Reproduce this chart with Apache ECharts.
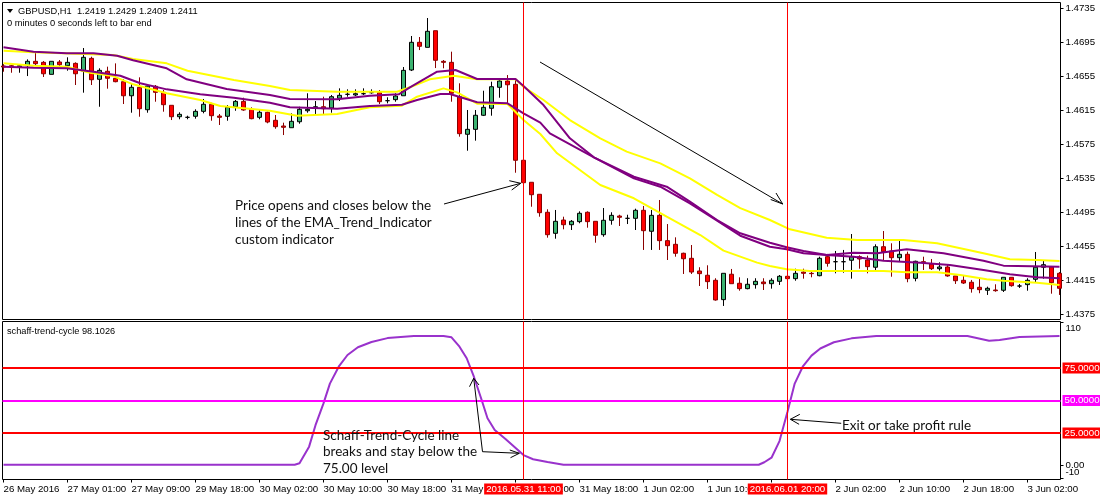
<!DOCTYPE html>
<html><head><meta charset="utf-8">
<style>html,body{margin:0;padding:0;background:#fff}#c{width:1100px;height:500px}</style>
<script src="https://cdn.jsdelivr.net/npm/echarts@6/dist/echarts.min.js"></script>
</head><body><div id="c"></div>
<script>
const opens=[1.46668,1.46671,1.46659,1.46671,1.46723,1.46711,1.46570,1.46715,1.46671,1.46699,1.46609,1.46758,1.46512,1.46606,1.46524,1.46484,1.46319,1.46418,1.46155,1.46430,1.46359,1.46207,1.46073,1.46066,1.46078,1.46136,1.46219,1.46081,1.46078,1.46190,1.46253,1.46160,1.46066,1.46125,1.46031,1.45964,1.45944,1.46014,1.46143,1.46175,1.46190,1.46175,1.46289,1.46336,1.46328,1.46343,1.46355,1.46355,1.46261,1.46273,1.46319,1.46621,1.46946,1.46887,1.47082,1.46723,1.46711,1.46308,1.45867,1.45925,1.46090,1.46172,1.46418,1.46492,1.46453,1.45562,1.45304,1.45163,1.44952,1.44705,1.44861,1.44806,1.44842,1.44952,1.44846,1.44689,1.44858,1.44908,1.44881,1.44881,1.44975,1.44729,1.44916,1.44619,1.44576,1.44471,1.44412,1.44263,1.44213,1.44154,1.43927,1.44225,1.44119,1.44056,1.44103,1.44134,1.44114,1.44142,1.44201,1.44173,1.44251,1.44236,1.44208,1.44431,1.44372,1.44372,1.44389,1.44431,1.44392,1.44307,1.44548,1.44498,1.44419,1.44459,1.44177,1.44372,1.44345,1.44290,1.44310,1.44205,1.44154,1.44131,1.44072,1.44037,1.44040,1.44037,1.44189,1.44087,1.44103,1.44166,1.44307,1.44310,1.44236];
const closes=[1.46656,1.46659,1.46671,1.46723,1.46695,1.46577,1.46723,1.46683,1.46711,1.46577,1.46770,1.46507,1.46617,1.46524,1.46484,1.46319,1.46418,1.46167,1.46433,1.46359,1.46214,1.46073,1.46101,1.46066,1.46136,1.46219,1.46085,1.46066,1.46183,1.46253,1.46152,1.46050,1.46125,1.46011,1.45956,1.45949,1.46019,1.46160,1.46160,1.46190,1.46167,1.46308,1.46324,1.46336,1.46343,1.46343,1.46355,1.46249,1.46261,1.46316,1.46617,1.46946,1.46899,1.47075,1.46735,1.46711,1.46348,1.45874,1.45925,1.46090,1.46183,1.46425,1.46492,1.46448,1.45562,1.45299,1.45158,1.44947,1.44689,1.44846,1.44806,1.44846,1.44940,1.44842,1.44682,1.44858,1.44916,1.44893,1.44881,1.44975,1.44736,1.44916,1.44619,1.44560,1.44471,1.44407,1.44251,1.44232,1.44138,1.43923,1.44236,1.44114,1.44056,1.44107,1.44142,1.44114,1.44154,1.44201,1.44173,1.44236,1.44236,1.44232,1.44412,1.44353,1.44372,1.44372,1.44431,1.44404,1.44314,1.44548,1.44490,1.44419,1.44459,1.44173,1.44377,1.44365,1.44290,1.44310,1.44205,1.44149,1.44122,1.44056,1.44044,1.44060,1.44032,1.44189,1.44091,1.44087,1.44154,1.44307,1.44337,1.44126,1.44060];
const lows=[1.46601,1.46589,1.46589,1.46550,1.46680,1.46539,1.46570,1.46668,1.46613,1.46445,1.46355,1.46445,1.46190,1.46402,1.46477,1.46222,1.46120,1.46073,1.46120,1.46249,1.46132,1.46034,1.46043,1.46043,1.46050,1.46113,1.46026,1.45976,1.46026,1.46143,1.46143,1.46043,1.46043,1.45996,1.45932,1.45858,1.45944,1.45991,1.46120,1.46105,1.46105,1.46120,1.46257,1.46308,1.46316,1.46328,1.46343,1.46222,1.46230,1.46249,1.46319,1.46609,1.46855,1.46887,1.46644,1.46641,1.46249,1.45839,1.45674,1.45792,1.46081,1.46085,1.46296,1.46230,1.45416,1.45299,1.45017,1.44900,1.44654,1.44642,1.44752,1.44744,1.44823,1.44771,1.44595,1.44665,1.44806,1.44791,1.44814,1.44744,1.44510,1.44510,1.44510,1.44392,1.44431,1.44228,1.44228,1.44087,1.44052,1.43915,1.43853,1.44114,1.44032,1.44048,1.44056,1.44040,1.44056,1.44099,1.44166,1.44149,1.44173,1.44189,1.44201,1.44314,1.44236,1.44243,1.44173,1.44290,1.44236,1.44255,1.44380,1.44196,1.44377,1.44131,1.44142,1.44275,1.44275,1.44267,1.44196,1.44111,1.44111,1.44009,1.44002,1.43982,1.44020,1.44017,1.44079,1.44064,1.44032,1.44126,1.44173,1.43997,1.43982];
const highs=[1.46691,1.46680,1.46680,1.46746,1.46836,1.46726,1.46723,1.46738,1.46770,1.46711,1.46879,1.46777,1.46641,1.46660,1.46699,1.46515,1.46465,1.46535,1.46433,1.46445,1.46386,1.46207,1.46125,1.46085,1.46160,1.46281,1.46237,1.46105,1.46210,1.46269,1.46296,1.46183,1.46160,1.46132,1.46093,1.46003,1.46113,1.46190,1.46348,1.46257,1.46308,1.46328,1.46406,1.46394,1.46394,1.46406,1.46394,1.46386,1.46301,1.46348,1.46656,1.47020,1.47008,1.47231,1.47082,1.46738,1.46836,1.46465,1.46152,1.46152,1.46378,1.46484,1.46503,1.46562,1.46523,1.45562,1.45304,1.45163,1.44987,1.44979,1.44900,1.44861,1.44963,1.44963,1.44846,1.45002,1.44952,1.44923,1.44923,1.44994,1.45026,1.44979,1.45096,1.44814,1.44658,1.44478,1.44568,1.44307,1.44330,1.44178,1.44236,1.44287,1.44189,1.44178,1.44178,1.44178,1.44178,1.44216,1.44216,1.44290,1.44290,1.44255,1.44431,1.44463,1.44498,1.44510,1.44697,1.44447,1.44443,1.44576,1.44732,1.44588,1.44619,1.44490,1.44384,1.44431,1.44404,1.44365,1.44333,1.44205,1.44205,1.44158,1.44173,1.44079,1.44107,1.44189,1.44189,1.44111,1.44178,1.44486,1.44384,1.44322,1.44251];

const yellowUpper=[[0,1.46847],[3.75,1.46829],[13.7,1.46797],[16.2,1.46750],[20.4,1.46699],[23,1.46613],[28.8,1.46503],[33.3,1.46433],[35.8,1.46386],[41.7,1.46366],[49.2,1.46366],[50.8,1.46418],[53.3,1.46512],[56.3,1.46554],[59.2,1.46512],[64,1.46512],[65,1.46425],[67.5,1.46269],[70.8,1.46034],[74.6,1.45820],[77.9,1.45663],[82.1,1.45526],[85.8,1.45350],[89.2,1.45155],[92.1,1.45000],[95.8,1.44861],[98.3,1.44752],[102.9,1.44654],[106.7,1.44627],[112.5,1.44627],[116.7,1.44588],[122.5,1.44471],[125.8,1.44400],[129.2,1.44392],[132,1.44380]];
const purpleUpper=[[0,1.46887],[3.75,1.46836],[7.9,1.46817],[11.25,1.46817],[14.2,1.46789],[16.2,1.46735],[20.4,1.46641],[22.9,1.46512],[27.9,1.46398],[33.3,1.46328],[35.8,1.46281],[41.7,1.46277],[45.8,1.46319],[49.4,1.46336],[50.8,1.46418],[54.2,1.46601],[56.5,1.46621],[59.2,1.46515],[64,1.46515],[65,1.46433],[67.5,1.46210],[70.8,1.45820],[73.8,1.45597],[78.8,1.45369],[82.9,1.45252],[85.8,1.45076],[89.2,1.44861],[92.1,1.44705],[95.8,1.44595],[97.9,1.44541],[100,1.44498],[102.9,1.44451],[106.25,1.44478],[109.2,1.44471],[112.9,1.44518],[117.5,1.44471],[122.5,1.44384],[125,1.44326],[132,1.44314]];
const purpleLower=[[0,1.46660],[3.75,1.46648],[7.9,1.46641],[11.25,1.46601],[14.6,1.46554],[17.1,1.46465],[20.4,1.46394],[24.6,1.46336],[28.8,1.46296],[33.3,1.46237],[35.8,1.46183],[41.7,1.46167],[45.8,1.46198],[49.8,1.46214],[51.7,1.46269],[54.6,1.46339],[55.8,1.46339],[59.2,1.46242],[63,1.46230],[65,1.46113],[67.1,1.46003],[68.3,1.45878],[73.8,1.45597],[78.8,1.45350],[82.1,1.45252],[85.8,1.45057],[89.2,1.44853],[92.1,1.44677],[95.8,1.44548],[97.9,1.44518],[100,1.44471],[102.9,1.44451],[106.25,1.44431],[110,1.44384],[114.6,1.44361],[118.3,1.44333],[122.5,1.44275],[125.8,1.44225],[129.2,1.44189],[132,1.44178]];
const yellowLower=[[0,1.46699],[3.75,1.46671],[7.9,1.46660],[10.8,1.46589],[13.7,1.46550],[16.2,1.46453],[20.4,1.46348],[24.6,1.46269],[27.1,1.46198],[33.3,1.46143],[36.7,1.46085],[41.7,1.46105],[45.8,1.46183],[49.8,1.46202],[51.7,1.46308],[55,1.46406],[56.7,1.46359],[59.2,1.46226],[63,1.46222],[65,1.46034],[67.1,1.45870],[69.2,1.45644],[74.6,1.45272],[78.8,1.45116],[82.9,1.44900],[87.1,1.44685],[90,1.44502],[94.2,1.44361],[95.8,1.44322],[97.9,1.44283],[100.8,1.44263],[104.2,1.44263],[110,1.44263],[112.9,1.44248],[116.7,1.44248],[119.6,1.44216],[122.9,1.44166],[125,1.44149],[129.2,1.44126],[132,1.44099]];
const schaff=[[0,0.6],[36.4,0.6],[37,1.7],[38.2,14.5],[39,31],[40,47.8],[40.8,63],[41.9,76],[43,85],[44.3,91],[46,95],[48,98],[51.3,99.6],[55,99.6],[56,98.6],[57,91.4],[57.9,82.5],[58.8,68.3],[59.7,51.7],[60.5,36.3],[61.4,27.3],[62.75,20.4],[65,8],[66.2,4.8],[68,2.7],[70,0.6],[94.4,0.6],[95.1,2.5],[96,6],[97,18.8],[98,41.4],[98.9,63],[99.9,76],[101,84.5],[102.1,90],[103.8,94.8],[106,97.8],[109.1,99.6],[120.5,99.6],[123.2,96],[124.5,96.5],[127,98.8],[132,99.6]];

const timeLabels=["26 May 2016","27 May 01:00","27 May 09:00","29 May 18:00","30 May 02:00","30 May 10:00","30 May 18:00","31 May 02:00","31 May 10:00","31 May 18:00","1 Jun 02:00","1 Jun 10:00","1 Jun 18:00","2 Jun 02:00","2 Jun 10:00","2 Jun 18:00","3 Jun 02:00"];
const timeTickBars=[0,8,16,24,32,40,48,56,64,72,80,88,96,104,112,120,128];
const priceTicks=[1.4375,1.4415,1.4455,1.4495,1.4535,1.4575,1.4615,1.4655,1.4695,1.4735];
const stcTicks=[110,0,-10];
const stcLabelValues=[105.8,0.4];
const stcLabels=['110','0.00'];
const crossBars=[65,98];
const crossLabels=["2016.05.31 11:00","2016.06.01 20:00"];
const levels=[75,50,25];
const levelColors=['#ff0000','#ff00ff','#ff0000'];

const FONT='"Liberation Sans"';
const NOTE='Lato';
const AXF=9.7;
const chart=echarts.init(document.getElementById('c'),null,{renderer:'canvas'});
const xBase={type:'value',min:-0.125,max:132.125,splitLine:{show:false},axisLine:{show:false,onZero:false}};
const lineS=(data,color,z)=>({type:'line',data,xAxisIndex:0,yAxisIndex:0,showSymbol:false,symbol:'none',silent:true,z,
  lineStyle:{color,width:2},animation:false});
const text=(x,y,t,font,fill)=>({type:'text',z:50,silent:true,style:{x,y,text:t,font,fill:fill||'#000',textVerticalAlign:'middle'}});
const pl=(pts)=>({type:'polyline',z:50,silent:true,shape:{points:pts},style:{stroke:'#000',lineWidth:1,fill:null}});
const noteFont='13.5px '+NOTE;

chart.setOption({
  animation:false,backgroundColor:'#fff',
  grid:[
    {left:2.5,top:2.5,width:1058,height:317,show:true,borderColor:'#000',borderWidth:1,backgroundColor:'transparent'},
    {left:2.5,top:321.5,width:1058,height:158,show:true,borderColor:'#000',borderWidth:1,backgroundColor:'transparent'}
  ],
  xAxis:[
    Object.assign({},xBase,{gridIndex:0,axisTick:{show:false},axisLabel:{show:false}}),
    Object.assign({},xBase,{gridIndex:1,position:'bottom',
      axisTick:{show:true,length:3,lineStyle:{color:'#000'},customValues:timeTickBars},
      axisLabel:{show:true,customValues:timeTickBars,align:'left',margin:5,color:'#000',fontFamily:FONT,fontSize:AXF,hideOverlap:false,
        formatter:v=>timeLabels[timeTickBars.indexOf(v)]||''}})
  ],
  yAxis:[
    {type:'value',gridIndex:0,position:'right',min:1.43694,max:1.47413,splitLine:{show:false},axisLine:{show:false,onZero:false},
      axisTick:{show:true,length:3,lineStyle:{color:'#000'},customValues:priceTicks},
      axisLabel:{customValues:priceTicks,margin:5,color:'#000',fontFamily:FONT,fontSize:AXF,formatter:v=>v.toFixed(4)}},
    {type:'value',gridIndex:1,position:'right',min:-10.77,max:110.77,splitLine:{show:false},axisLine:{show:false,onZero:false},
      axisTick:{show:true,length:3,lineStyle:{color:'#000'},customValues:stcTicks},
      axisLabel:{customValues:stcLabelValues,hideOverlap:false,margin:5,color:'#000',fontFamily:FONT,fontSize:AXF,
        formatter:v=>stcLabels[stcLabelValues.indexOf(v)]}}
  ],
  series:[
    {type:'candlestick',xAxisIndex:0,yAxisIndex:0,barWidth:5,silent:true,z:2,
      encode:{x:0,y:[1,2,3,4]},
      data:opens.map((o,i)=>[i,o,closes[i],lows[i],highs[i]]),
      itemStyle:{color:'#3CB371',color0:'#ff0000',borderColor:'#000000',borderColor0:'#8B0000',borderColorDoji:'#000000',borderWidth:1},
      markLine:{silent:true,symbol:'none',animation:false,label:{show:false},lineStyle:{color:'#ff0000',width:1,type:'solid'},
        data:crossBars.map(b=>({xAxis:b}))}},
    lineS(yellowUpper,'#ffff00',3),
    lineS(yellowLower,'#ffff00',3),
    lineS(purpleUpper,'#800080',4),
    lineS(purpleLower,'#800080',4),
    {type:'line',xAxisIndex:1,yAxisIndex:1,data:schaff,showSymbol:false,symbol:'none',silent:true,z:4,
      lineStyle:{color:'#9932CC',width:2},
      markLine:{silent:true,symbol:'none',animation:false,z:5,
        data:levels.map((v,i)=>({yAxis:v,lineStyle:{color:levelColors[i],width:2,type:'solid'},
          label:{show:true,position:'end',distance:2,formatter:v.toFixed(4),color:'#fff',backgroundColor:levelColors[i],
            padding:[0,1,0,2],fontFamily:FONT,fontSize:AXF,lineHeight:11}})).concat(
          crossBars.map((b,i)=>({xAxis:b,lineStyle:{color:'#ff0000',width:1,type:'solid'},
            label:{show:true,position:'start',distance:4,formatter:crossLabels[i],color:'#fff',backgroundColor:'#ff0000',
              padding:[0,2,0,2],fontFamily:FONT,fontSize:AXF,lineHeight:11}})))}}
  ],
  graphic:[
    {type:'polygon',z:50,silent:true,shape:{points:[[7,9],[13,9],[10,13]]},style:{fill:'#000'}},
    text(18,11,'GBPUSD,H1  1.2419 1.2429 1.2409 1.2411','9.3px '+FONT),
    text(7,23,'0 minutes 0 seconds left to bar end','9.3px '+FONT),
    text(7,331,'schaff-trend-cycle 98.1026','9.2px '+FONT),
    text(1065.5,472.5,'-10',AXF+'px '+FONT),
    text(235,206,'Price opens and closes below the',noteFont,'#111'),
    text(235,223,'lines of the EMA_Trend_Indicator',noteFont,'#111'),
    text(235,240,'custom indicator',noteFont,'#111'),
    text(323,436,'Schaff-Trend-Cycle line',noteFont,'#111'),
    text(323,452,'breaks and stay below the',noteFont,'#111'),
    text(323,469,'75.00 level',noteFont,'#111'),
    text(842,426,'Exit or take profit rule',noteFont,'#111'),
    pl([[540,62],[782.7,204]]),pl([[770.7,199.5],[782.7,204],[776,193]]),
    pl([[444,204],[520.7,183.3]]),pl([[509.3,180.7],[520.7,183.3],[511.7,190]]),
    pl([[473.7,378.3],[482.5,451.7],[519.3,453.3]]),pl([[469.5,386.7],[473.7,378.3],[479,385]]),pl([[509.8,450],[519.3,453.3],[510.5,457.7]]),
    pl([[841.2,423.3],[790.4,419.3]]),pl([[799.8,414.3],[790.4,419.3],[799.1,424.3]])
  ]
});
</script></body></html>
